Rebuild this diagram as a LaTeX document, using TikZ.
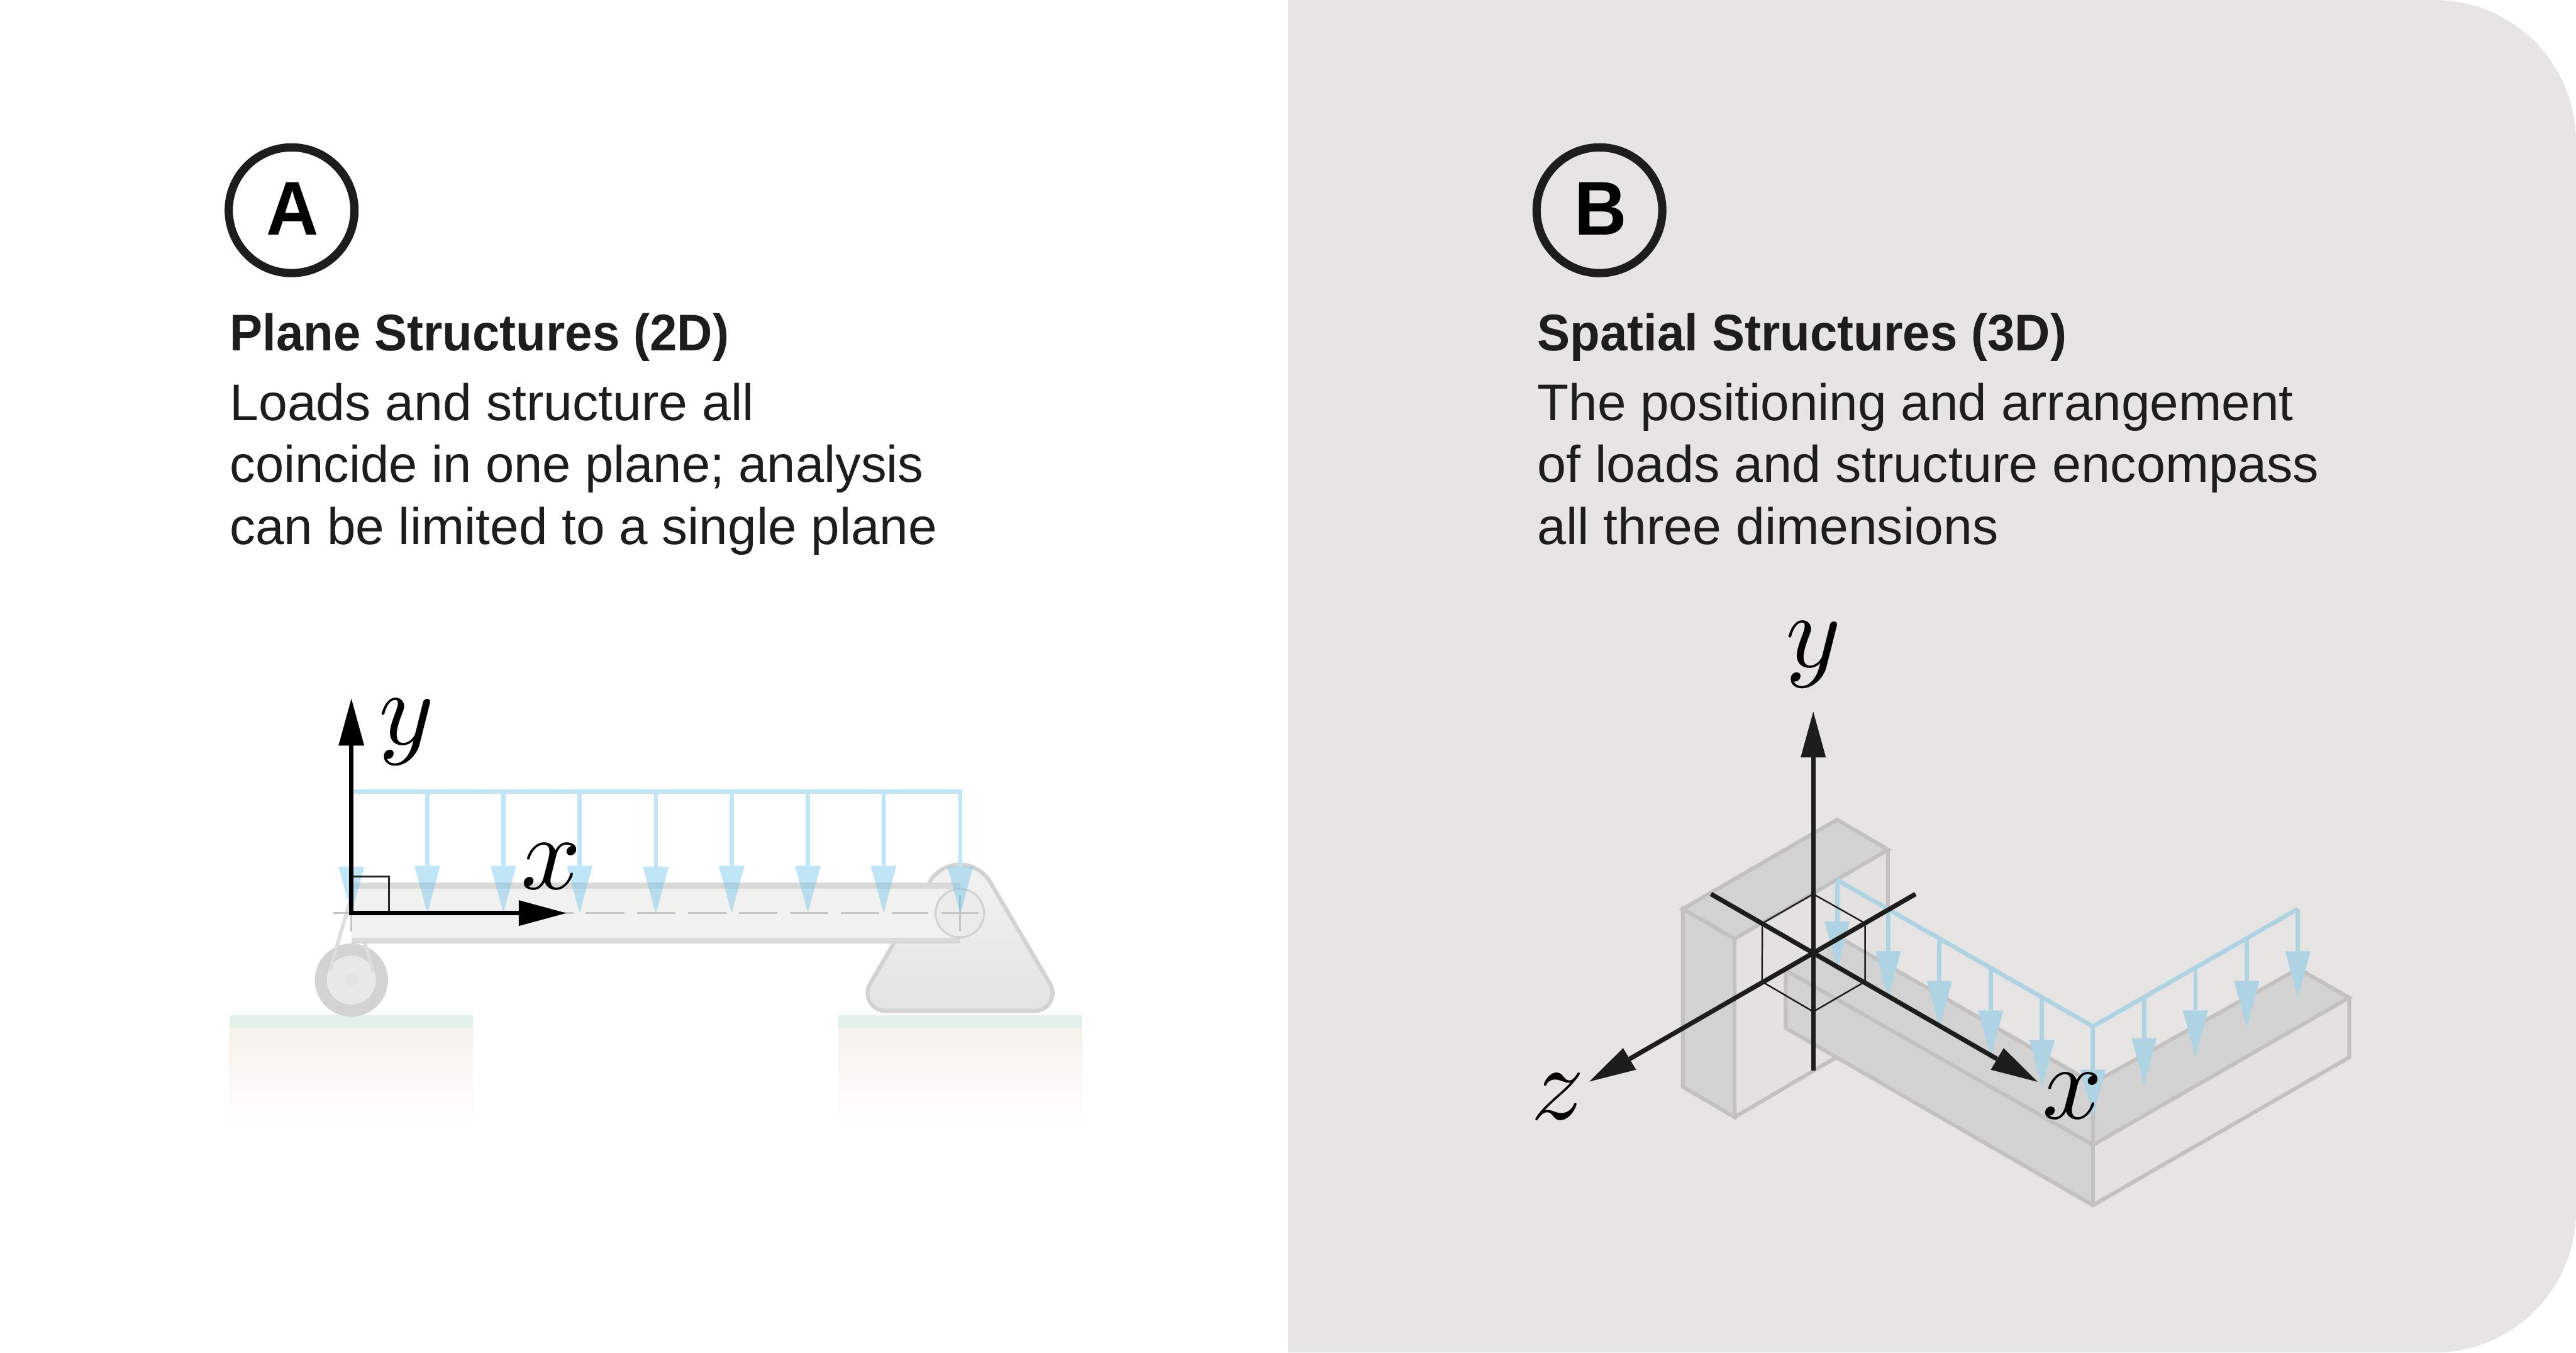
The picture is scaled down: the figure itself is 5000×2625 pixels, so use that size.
\documentclass[tikz,border=0pt]{standalone}
\usepackage{fontspec}
\setmainfont[BoldFeatures={FakeStretch=0.953}]{Liberation Sans}
\usetikzlibrary{arrows.meta}
\definecolor{ink}{HTML}{1D1D1B}
\definecolor{panel}{HTML}{E6E5E3}
\definecolor{edgeg}{HTML}{C2C1BF}
\definecolor{darkf}{HTML}{D3D2D2}
\definecolor{lightf}{HTML}{E3E2E0}
\definecolor{loadb}{HTML}{AED3E3}
\definecolor{loada}{HTML}{BFE5F6}
\definecolor{loadfill}{HTML}{61C0EB}
\definecolor{beamf}{HTML}{F1F1F0}
\definecolor{beame}{HTML}{D9D9D9}
\definecolor{ring}{HTML}{D3D3D3}
\definecolor{grass}{HTML}{DFF1E8}
\definecolor{soil}{HTML}{F6F1EB}
\definecolor{soilmid}{HTML}{FAF7F3}
\definecolor{cline}{HTML}{C6C6C6}
\tikzset{
  x=0.24pt,y=-0.24pt,
  px/.style={line width=#1*0.24pt},
  lbl/.style={inner sep=0pt,outer sep=0pt,text=black},
  ttl/.style={inner sep=0pt,outer sep=0pt,anchor=base west,text=ink,font=\fontsize{24}{28.8}\selectfont\bfseries},
  body/.style={inner sep=0pt,outer sep=0pt,anchor=base west,text=ink,font=\fontsize{24}{28.8}\selectfont},
  badge/.style={circle,draw=ink,px=16,minimum size=244*0.24pt,inner sep=0pt,text=black,font=\fontsize{35.5}{35.5}\selectfont\bfseries},
  edgeline/.style={draw=edgeg,px=7.5,line join=miter},
}
\newcommand{\loadA}[2]{% x, head base y
  \draw[loada,px=8] (#1,1536) -- (#1,#2);
  \fill[loadfill,fill opacity=.4] (#1-25,#2) -- (#1+25,#2) -- (#1,#2+92) -- cycle;}
\newcommand{\loadB}[3]{% x, line y, head base y
  \draw[loadb,px=8.5] (#1,#2) -- (#1,#3);
  \fill[loadb] (#1-24.5,#3) -- (#1+24.5,#3) -- (#1,#3+91) -- cycle;}
\newcommand{\badgeletter}[1]{\raisebox{-11.4pt}[0pt][0pt]{\hspace{1pt}#1}}
\newcommand{\fitw}[2]{\scalebox{#1}[1]{#2}}
\begin{document}
\begin{tikzpicture}
\useasboundingbox (0,0) rectangle (5000,2625);
\fill[white] (0,0) rectangle (5000,2625);
% panel
\fill[panel] (2500,0) -- (4725,0) .. controls (4877,0) and (5000,123) .. (5000,275)
  -- (5000,2350) .. controls (5000,2502) and (4877,2625) .. (4725,2625) -- (2500,2625) -- cycle;
% --- A: ground
\foreach \gx in {445,1627}{
  \shade[top color=soil,middle color=soilmid,bottom color=white] (\gx,1995) rectangle (\gx+473,2190);
  \fill[grass] (\gx,1970) rectangle (\gx+473,1995);
}
% wheel support
\fill[white] (677,1753) -- (638,1880) -- (726,1880) -- (687,1753) -- cycle;
\fill[ring] (682,1902) circle (71);
\fill[white!91!black] (682,1902) circle (47.6);
\fill[white!89!black] (682,1902) circle (12);
\draw[white!87!black,px=7,line join=round] (640,1885) -- (677,1756) .. controls (680,1750) and (684,1750) .. (687,1756) -- (724,1885);
% right support
\shade[top color=white!95!black,bottom color=white!89!black,draw=ring,px=8]
  (1804,1712) .. controls (1816.1,1691) and (1838.7,1678) .. (1863,1678)
  .. controls (1887.3,1678) and (1909.9,1691) .. (1922,1712)
  -- (2038.3,1909.5) .. controls (2044.55,1920.3) and (2044.55,1933.7) .. (2038.3,1944.5)
  .. controls (2032.05,1955.3) and (2020.5,1962) .. (2008,1962)
  -- (1719,1962) .. controls (1706.5,1962) and (1694.95,1955.3) .. (1688.7,1944.5)
  .. controls (1682.45,1933.7) and (1682.45,1920.3) .. (1688.7,1909.5) -- cycle;
% beam
\fill[beamf] (682,1719) rectangle (1864,1825.5);
\draw[beame,px=12] (682,1719) -- (1864,1719);
\draw[beame,px=12] (682,1825.5) -- (1864,1825.5);
% pin
\fill[white!92!black,fill opacity=.8] (1863,1772) circle (47);
\draw[ring,px=4] (1863,1772) circle (47);
% centre lines
\draw[cline,px=4,dash pattern=on 18pt off 5.76pt,dash phase=1.2pt] (647,1772) -- (1802,1772);
\draw[cline,px=4] (1827,1772) -- (1899,1772);
\draw[cline,px=4] (1863,1737) -- (1863,1808);
\draw[cline,px=4] (682,1772) -- (682,1808);
% load A
\draw[loada,px=8,line join=miter] (682,1536) -- (1864,1536) -- (1864,1682);
\loadA{682}{1682}
\loadA{829.5}{1680}
\loadA{977}{1680}
\loadA{1125}{1680}
\loadA{1273}{1682}
\loadA{1420}{1680}
\loadA{1568}{1680}
\loadA{1715}{1680}
\loadA{1864}{1682}
% square mark
\draw[black!85,px=3] (682,1701) rectangle (755,1772);
% axes A
\draw[black,px=8] (682,1776) -- (682,1447);
\draw[black,px=8] (678,1772) -- (1007,1772);
\fill[black] (682,1356) -- (707,1447) -- (657,1447) -- cycle;
\fill[black] (1099,1772) -- (1007,1747) -- (1007,1797) -- cycle;
\node[lbl] (ay) at (789,1421) {\scalebox{4.9}{$y$}};
\node[lbl] (ax) at (1070,1681) {\scalebox{4.9}{$x$}};
% --- B: structure
\fill[lightf] (3366.8,1821.8) -- (3665,1649) -- (3665,1874) -- (3565.8,2051) -- (3366.8,2168) -- cycle;
\fill[lightf] (4062.4,2222) -- (4559.8,1936) -- (4559.8,2052) -- (4062.4,2339) -- cycle;
\filldraw[darkf,edgeline] (3266.3,1764) -- (3565.8,1590.7) -- (3665,1649) -- (3366.8,1821.8) -- cycle;
\filldraw[darkf,edgeline] (3266.3,1764) -- (3366.8,1821.8) -- (3366.8,2168) -- (3266.3,2109) -- cycle;
\draw[edgeline] (3665,1649) -- (3665,1874);
\draw[edgeline] (3366.8,2168) -- (3565.8,2051);
\fill[darkf] (3466,1883) -- (3573,1821) -- (4062.4,2102) -- (4461,1880) -- (4559.8,1936) -- (4062.4,2222) -- (4062.4,2339) -- (3466,1995) -- cycle;
\draw[edgeline] (3466,1883) -- (4062.4,2222) -- (4559.8,1936) -- (4461,1880) -- (4062.4,2102) -- (3580,1825);
\draw[edgeline] (4062.4,2102) -- (4062.4,2339);
\draw[edgeline] (3466,1883) -- (3466,1995) -- (4062.4,2339) -- (4559.8,2052) -- (4559.8,1936);
% load B
\draw[loadb,px=8.5,line join=miter] (3566,1708) -- (4062.4,1992) -- (4460,1764);
\loadB{3566}{1708}{1788}
\loadB{3665}{1765}{1846}
\loadB{3764.5}{1822}{1903.6}
\loadB{3864}{1879}{1961}
\loadB{3963.5}{1935}{2018}
\loadB{4062.4}{1992}{2076}
\loadB{4161.8}{1935}{2014.6}
\loadB{4261.4}{1878}{1961}
\loadB{4361}{1821}{1903.6}
\loadB{4460}{1764}{1846}
% hexagon
\draw[ink,px=3,line join=miter] (3519.5,1735) -- (3620,1791.7) -- (3620,1905) -- (3519.5,1963.3) -- (3420,1905) -- (3420.7,1791.7) -- cycle;
% axes B
\coordinate (zend) at (3718,1735);
\coordinate (xend) at (3321,1735);
\draw[ink,px=9] (3519.5,1470) -- (3519.5,2078);
\fill[ink] (3519.5,1381) -- (3544,1470) -- (3495,1470) -- cycle;
\draw[ink,px=9] (zend) -- (3163,2055);
\fill[ink] (3084.7,2099) -- (3150.5,2034) -- (3175.5,2076) -- cycle;
\draw[ink,px=9] (xend) -- (3876,2055);
\fill[ink] (3955,2099.5) -- (3889,2034) -- (3864,2076) -- cycle;
\node[lbl] (by) at (3520,1270) {\scalebox{4.9}{$y$}};
\node[lbl] (bz) at (3024,2128) {\scalebox{4.9}{$z$}};
\node[lbl] (bx) at (4023,2127) {\scalebox{4.9}{$x$}};
% texts
\node[badge] (ba) at (566,408) {\badgeletter{A}};
\node[badge] (bb) at (3104.5,408) {\badgeletter{B}};
\node[ttl] (t1) at (446,681) {Plane Structures (2D)};
\node[body] (a1) at (446,816) {\fitw{1.006}{Loads and structure all}};
\node[body] (a2) at (446,936) {\fitw{0.993}{coincide in one plane; analysis}};
\node[body] (a3) at (446,1056) {can be limited to a single plane};
\node[ttl] (t2) at (2984,681) {Spatial Structures (3D)};
\node[body] (b1) at (2984,816) {The positioning and arrangement};
\node[body] (b2) at (2984,936) {\fitw{1.011}{of loads and structure encompass}};
\node[body] (b3) at (2984,1056) {\fitw{1.006}{all three dimensions}};
\end{tikzpicture}
\end{document}
